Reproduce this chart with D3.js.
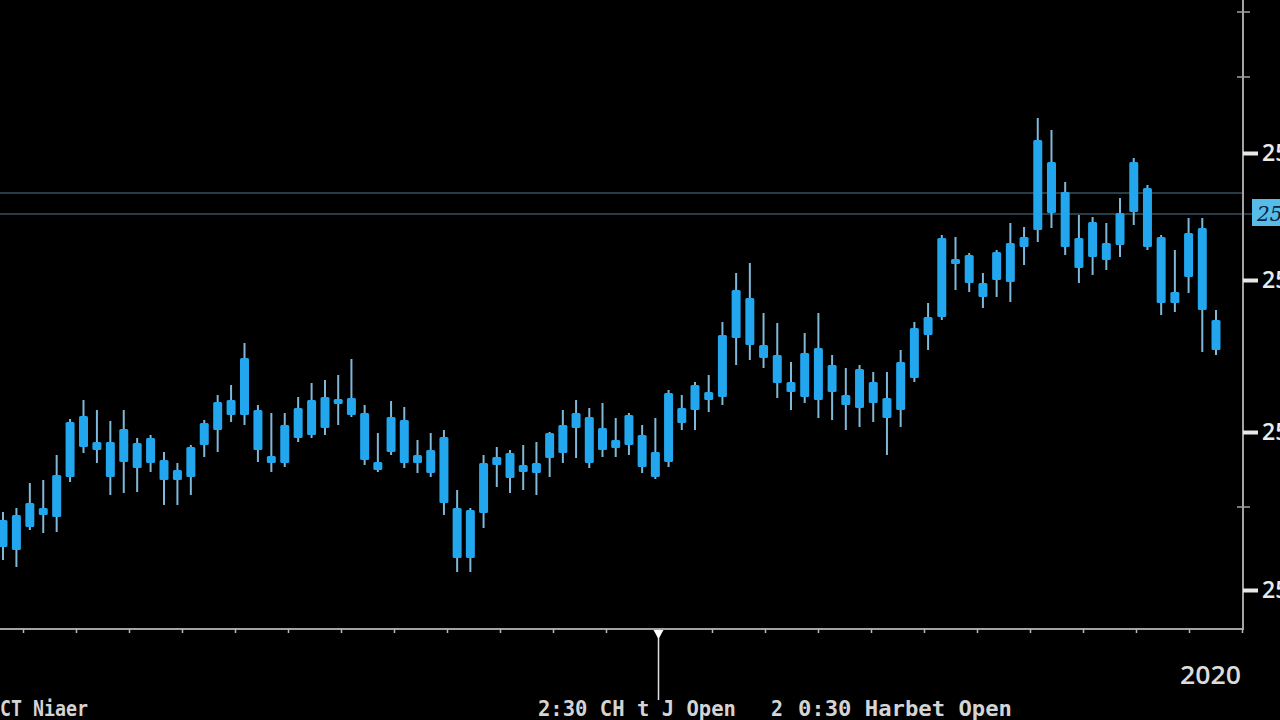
<!DOCTYPE html>
<html>
<head>
<meta charset="utf-8">
<script src="https://cdn.jsdelivr.net/npm/d3@7"></script>
<style>
  html, body { margin: 0; padding: 0; background: #000; overflow: hidden; }
  svg { display: block; }
</style>
</head>
<body>
<svg id="chart" width="1280" height="720"></svg>
<script>
// ---------- DATA ----------
const openVals = [250.86,250.8,251.26,251.64,251.46,252.26,252.86,252.96,252.96,252.56,
252.94,252.54,252.6,252.4,252.26,252.9,253.2,253.5,253.5,253.6,
252.68,252.54,253.04,253.1,253.24,253.72,253.84,253.54,252.56,252.76,
253.4,252.7,252.8,253.06,251.64,251.6,251.54,252.5,252.74,252.5,
252.34,252.64,252.74,253.24,253.46,252.8,253.0,252.9,253.1,252.76,
252.56,253.34,253.6,253.8,253.86,255.04,255.84,254.9,254.7,254.16,
253.86,253.8,254.5,253.9,253.64,254.16,253.84,253.6,254.24,255.1,
255.46,256.54,256.7,256.14,256.2,256.16,256.86,257.2,258.56,257.96,
257.04,256.66,256.94,256.9,257.56,258.04,257.06,255.96,256.26,257.24,
255.4];
const closeVals = [251.4,251.5,251.74,251.5,252.3,253.36,253.48,252.8,252.26,253.22,
252.44,253.04,252.2,252.2,252.86,253.34,253.76,253.8,254.64,252.8,
252.54,253.3,253.64,253.8,253.86,253.82,253.5,252.6,252.4,253.46,
252.54,252.54,252.34,251.74,250.64,250.64,252.54,252.66,252.24,252.36,
252.54,253.14,253.3,253.54,252.54,253.24,252.84,253.5,252.46,252.26,
253.94,253.64,254.1,253.96,255.1,256.0,254.9,254.64,254.14,253.96,
254.74,254.84,253.96,253.7,254.42,253.74,253.44,254.56,255.24,255.46,
257.04,256.62,256.14,255.86,256.76,256.94,257.06,259.0,257.54,256.86,
256.44,257.36,256.6,257.54,258.56,256.86,255.74,255.74,257.14,255.6,
254.8];
const highVals = [251.56,251.64,252.14,252.2,252.7,253.42,253.8,253.6,253.38,253.6,
253.04,253.1,252.76,252.54,252.9,253.4,253.9,254.1,254.94,253.7,
253.54,253.54,253.86,254.14,254.2,254.3,254.62,253.7,253.14,253.78,
253.66,253.0,253.14,253.2,252.0,251.64,252.7,252.86,252.8,252.9,
252.96,253.16,253.6,253.8,253.64,253.74,253.44,253.54,253.3,253.44,
254.0,253.9,254.16,254.3,255.36,256.34,256.54,255.54,255.34,254.56,
255.14,255.54,254.7,254.44,254.5,254.36,254.36,254.8,255.36,255.74,
257.1,257.06,256.74,256.34,256.8,257.34,257.26,259.44,259.2,258.16,
257.5,257.46,257.34,257.84,258.64,258.1,257.1,256.8,257.44,257.44,
255.6];
const lowVals = [250.6,250.46,251.2,251.14,251.16,252.16,252.74,252.54,251.9,251.94,
251.96,252.36,251.7,251.7,251.9,252.66,252.76,253.36,253.3,252.56,
252.36,252.46,252.96,253.04,253.1,253.3,253.46,252.5,252.36,252.7,
252.44,252.34,252.26,251.5,250.36,250.36,251.24,252.06,251.94,252.0,
251.9,252.26,252.54,252.64,252.44,252.66,252.66,252.7,252.34,252.22,
252.46,253.2,253.2,253.56,253.7,254.5,254.6,254.44,253.84,253.6,
253.74,253.44,253.4,253.2,253.26,253.36,252.7,253.26,254.16,254.8,
255.4,256.0,255.96,255.64,255.86,255.76,256.5,256.96,257.24,256.7,
256.14,256.3,256.4,256.66,257.3,256.8,255.5,255.56,255.94,254.76,
254.7];

const majorTickValues = [258.74, 256.2, 253.16, 250.0];
const majorTickLabels = ["258.7", "256.2", "253.2", "250.0"];
const minorTickValues = [261.56, 260.26, 251.66];
const refLineValues = [257.94, 257.52];
const lastPriceValue = 257.52;
const lastPriceLabel = "257.5";
const weekTicks = d3.range(24);
const markerWeek = 12;
const bottomTexts = [
  { text: "CT Niaer", pos: 0, len: 88 },
  { text: "2:30 CH t J Open", pos: 538, len: 198 },
  { text: "2", pos: 771, len: 12 },
  { text: "0:30 Harbet Open", pos: 798, len: 214 }
];
const yearLabel = "2020";

// ---------- LAYOUT ----------
const W = 1280, H = 720;
const axisX = 1243, axisY = 629;
const svg = d3.select("#chart");
svg.append("rect").attr("width", W).attr("height", H).attr("fill", "#000");

const idx = d3.range(openVals.length);
const x = d3.scaleLinear().domain([0, 24, 52, 90]).range([3, 325, 695, 1216]);
const y = d3.scaleLinear().domain([249.2, 261.8]).range([630, 0]);
const xWeek = d3.scaleLinear().domain([0, 1]).range([23, 76]);

// reference horizontal lines
svg.selectAll(".ref").data(refLineValues).enter().append("line")
  .attr("x1", 0).attr("x2", (d, i) => i === 0 ? axisX : 1252)
  .attr("y1", d => y(d)).attr("y2", d => y(d))
  .attr("stroke", "#34505f").attr("stroke-width", 1.5);

// candles
const g = svg.append("g");
const bodyW = 9;
g.selectAll(".wick").data(idx).enter().append("line")
  .attr("x1", i => x(i)).attr("x2", i => x(i))
  .attr("y1", i => y(highVals[i])).attr("y2", i => y(lowVals[i]))
  .attr("stroke", "#7fb8d8").attr("stroke-width", 2);
g.selectAll(".body").data(idx).enter().append("rect")
  .attr("x", i => x(i) - bodyW / 2)
  .attr("width", bodyW)
  .attr("y", i => y(Math.max(openVals[i], closeVals[i])))
  .attr("height", i => Math.max(5, Math.abs(y(openVals[i]) - y(closeVals[i]))))
  .attr("rx", 1.5)
  .attr("fill", "#22a6ee");

// right axis
svg.append("line").attr("x1", axisX).attr("x2", axisX).attr("y1", 0).attr("y2", axisY + 1)
  .attr("stroke", "#a3a3a3").attr("stroke-width", 2);
const rAxis = d3.axisRight(y).tickValues(majorTickValues)
  .tickFormat((d, i) => majorTickLabels[i]).tickSize(15).tickPadding(4);
const ra = svg.append("g").attr("transform", `translate(${axisX},0)`).call(rAxis);
ra.select(".domain").remove();
ra.selectAll(".tick line").attr("stroke", "#e8e8e8").attr("stroke-width", 4);
ra.selectAll(".tick text").attr("fill", "#eaeaea")
  .style("font-family", "'Open Sans', 'DejaVu Sans', sans-serif").style("font-size", "23px")
  .style("font-weight", "600");
svg.selectAll(".minor").data(minorTickValues).enter().append("line")
  .attr("x1", axisX - 6).attr("x2", axisX + 7)
  .attr("y1", d => y(d)).attr("y2", d => y(d))
  .attr("stroke", "#a3a3a3").attr("stroke-width", 1.5);

// last price label
svg.append("rect").attr("x", 1252).attr("y", y(lastPriceValue) - 15)
  .attr("width", 30).attr("height", 27).attr("fill", "#58bce9");
svg.append("text").attr("x", 1257).attr("y", y(lastPriceValue) + 7)
  .attr("fill", "#0c2340").style("font-family", "'DejaVu Serif', serif")
  .style("font-style", "italic").style("font-size", "20px").text(lastPriceLabel);

// bottom axis
svg.append("line").attr("x1", 0).attr("x2", axisX).attr("y1", axisY).attr("y2", axisY)
  .attr("stroke", "#a3a3a3").attr("stroke-width", 2);
const bAxis = d3.axisBottom(xWeek).tickValues(weekTicks).tickFormat("").tickSize(4);
const ba = svg.append("g").attr("transform", `translate(0,${axisY})`).call(bAxis);
ba.select(".domain").remove();
ba.selectAll(".tick line").attr("stroke", "#b8b8b8").attr("stroke-width", 1.5);

// session marker
const mx = xWeek(markerWeek) - 0.5;
svg.append("line").attr("x1", mx).attr("x2", mx).attr("y1", axisY + 2).attr("y2", 700)
  .attr("stroke", "#e0e0e0").attr("stroke-width", 1.5);
svg.append("path").attr("d", `M${mx - 5},${axisY + 1} L${mx + 5},${axisY + 1} L${mx},${axisY + 10} Z`)
  .attr("fill", "#ffffff");

// texts
svg.selectAll(".btxt").data(bottomTexts).enter().append("text")
  .attr("x", d => d.pos).attr("y", 716)
  .attr("textLength", d => d.len).attr("lengthAdjust", "spacingAndGlyphs")
  .attr("fill", "#d4d4d4")
  .style("font-family", "'DejaVu Sans Mono', monospace").style("font-size", "21px")
  .style("font-weight", "bold")
  .text(d => d.text);
svg.append("text").attr("x", 1180).attr("y", 684)
  .attr("textLength", 61).attr("lengthAdjust", "spacingAndGlyphs")
  .attr("fill", "#dcdcdc")
  .style("font-family", "'Open Sans', 'DejaVu Sans', sans-serif").style("font-size", "26px")
  .style("font-weight", "600")
  .text(yearLabel);
</script>
</body>
</html>
